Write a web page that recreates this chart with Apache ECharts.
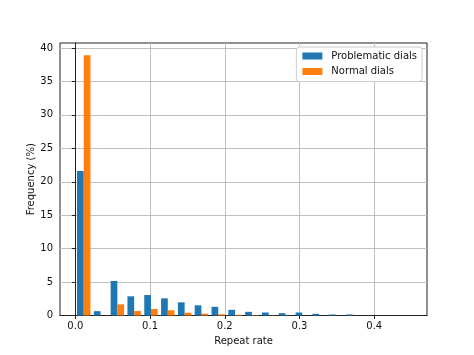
<!DOCTYPE html>
<html>
<head>
<meta charset="utf-8">
<script src="https://cdn.jsdelivr.net/npm/echarts@6/dist/echarts.min.js"></script>
<style>html,body{margin:0;padding:0;background:#fff;}#c{width:474px;height:355px;}</style>
</head>
<body>
<div id="c"></div>
<script>
// Histogram bins (left edge of first bin and bin width, in repeat-rate units)
const binStart = 0;
const binWidth = 0.0225;
// Frequency (%) per bin
const problematicDials = [21.6, 0.65, 5.16, 2.87, 3.06, 2.57, 1.97, 1.52, 1.3, 0.85, 0.55, 0.45, 0.35, 0.45, 0.25, 0.15, 0.15, 0, 0, 0];
const normalDials      = [38.9, 0, 1.67, 0.67, 0.97, 0.78, 0.42, 0.27, 0.18, 0.1, 0.05, 0.03, 0.02, 0, 0, 0, 0, 0, 0, 0];
const seriesNames = ['Problematic dials', 'Normal dials'];
const xTicks = [0.0, 0.1, 0.2, 0.3, 0.4];
const yTicks = [0, 5, 10, 15, 20, 25, 30, 35, 40];

const FONT = 'DejaVu Sans';
const chart = echarts.init(document.getElementById('c'), null, {renderer: 'canvas'});

function toData(arr) {
  return arr.map((v, i) => [binStart + i * binWidth, v]);
}
function makeRender(offsetFrac) {
  return function (params, api) {
    const x0 = api.value(0) + offsetFrac * binWidth;
    const x1 = x0 + 0.4 * binWidth;
    const p1 = api.coord([x0, api.value(1)]);
    const p2 = api.coord([x1, 0]);
    return {
      type: 'rect',
      shape: {x: p1[0], y: p1[1], width: p2[0] - p1[0], height: p2[1] - p1[1]},
      style: api.style()
    };
  };
}

chart.setOption({
  animation: false,
  backgroundColor: '#fff',
  textStyle: {fontFamily: FONT},
  grid: {left: 60, right: 47, top: 43, bottom: 39.5, show: true, borderColor: '#222', borderWidth: 1, backgroundColor: 'transparent'},
  legend: {
    orient: 'vertical', right: 52, top: 47,
    backgroundColor: '#fff', borderColor: '#ccc', borderWidth: 1, borderRadius: 3,
    padding: [3, 5, 4, 6], itemWidth: 20, itemHeight: 7, itemGap: 3.5,
    icon: 'rect',
    textStyle: {fontFamily: FONT, fontSize: 10, color: '#111', lineHeight: 12, padding: [0, 0, 0, 4]},
    data: seriesNames
  },
  xAxis: {
    type: 'value', min: -0.0205, max: 0.4706,
    name: 'Repeat rate', nameLocation: 'middle', nameGap: 21, nameMoveOverlap: false,
    nameTextStyle: {fontFamily: FONT, fontSize: 10, color: '#111', verticalAlign: 'top'},
    axisLine: {show: true, lineStyle: {color: '#222', width: 1}},
    axisTick: {show: true, inside: false, length: 3.5, customValues: xTicks, lineStyle: {color: '#222'}},
    axisLabel: {customValues: xTicks, margin: 6, fontFamily: FONT, fontSize: 10, color: '#111', formatter: v => v.toFixed(1)},
    splitLine: {show: true, lineStyle: {color: '#c0c0c0', width: 1}}
  },
  yAxis: {
    type: 'value', min: 0, max: 40.75,
    name: 'Frequency (%)', nameLocation: 'middle', nameGap: 24, nameRotate: 90, nameMoveOverlap: false,
    nameTextStyle: {fontFamily: FONT, fontSize: 10, color: '#111'},
    axisLine: {show: true, lineStyle: {color: '#222', width: 1}},
    axisTick: {show: true, inside: false, length: 3.5, customValues: yTicks, lineStyle: {color: '#222'}},
    axisLabel: {customValues: yTicks, margin: 7, fontFamily: FONT, fontSize: 10, color: '#111'},
    splitLine: {show: true, lineStyle: {color: '#c0c0c0', width: 1}}
  },
  series: [
    {
      name: seriesNames[0], type: 'custom', renderItem: makeRender(0.1),
      encode: {x: 0, y: 1}, itemStyle: {color: '#1f77b4'}, data: toData(problematicDials), z: 3
    },
    {
      name: seriesNames[1], type: 'custom', renderItem: makeRender(0.5),
      encode: {x: 0, y: 1}, itemStyle: {color: '#ff7f0e'}, data: toData(normalDials), z: 3
    }
  ]
});
</script>
</body>
</html>
